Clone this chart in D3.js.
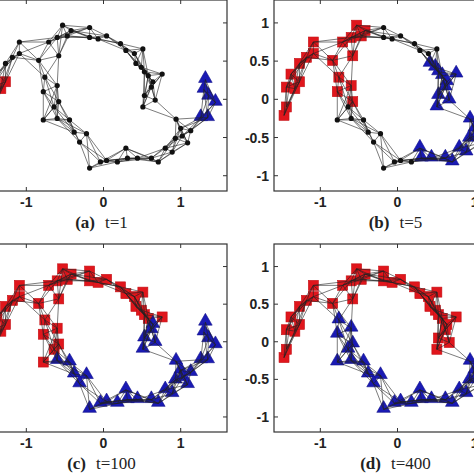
<!DOCTYPE html>
<html>
<head>
<meta charset="utf-8">
<script src="https://cdn.jsdelivr.net/npm/d3@7"></script>
<style>
  body { margin: 0; background: #fff; }
  svg { display: block; }
</style>
</head>
<body>
<svg id="chart" width="474" height="474"></svg>
<script>
// upper moon points (x, y)
var upperX = [-1.47,-1.44,-1.44,-1.38,-1.33,-1.27,-1.27,-1.18,-1.09,-1.09,-0.84,-0.71,-0.60,-0.58,-0.53,-0.47,-0.42,
              -0.18,-0.18,-0.07,0.04,0.22,0.29,0.40,0.51,0.42,0.49,0.53,0.58,0.76,0.64,0.62,0.53,0.67,0.51];
var upperY = [-0.21,-0.10,0.16,0.33,0.14,0.23,0.47,0.55,0.60,0.75,0.51,0.75,0.81,0.57,0.97,0.83,0.90,
              0.94,0.81,0.79,0.83,0.73,0.64,0.60,0.66,0.47,0.42,0.36,0.31,0.33,0.23,0.16,0.05,-0.01,-0.10];
// lower moon points
var lowerX = [-0.76,-0.78,-0.60,-0.58,-0.64,-0.78,-0.60,-0.44,-0.38,-0.22,-0.31,-0.18,-0.04,0.04,0.18,0.29,0.31,
              0.44,0.62,0.71,0.80,0.89,0.94,1.00,0.93,1.02,1.09,1.13,1.32,1.36,1.45,1.26,1.35,1.30];
var lowerY = [0.29,0.10,0.18,-0.03,-0.10,-0.27,-0.25,-0.27,-0.43,-0.45,-0.56,-0.90,-0.82,-0.80,-0.82,-0.64,-0.77,
              -0.77,-0.77,-0.82,-0.64,-0.69,-0.26,-0.38,-0.51,-0.48,-0.57,-0.41,0.26,0.04,-0.04,-0.24,-0.24,0.13];

// labels per panel: 0 = unlabelled, 1 = red square, 2 = blue triangle
var upperA = [1,1,1,0,1,1,0,0,0,0,0,0,0,0,0,0,0, 0,0,0,0,0,0,0,0,0,0,0,0,0,0,0,0,0,0];
var upperB = [1,1,1,1,1,1,1,1,1,1,1,1,1,1,1,1,1, 0,0,0,0,0,0,0,0,2,2,2,2,2,2,2,2,2,2];
var upperC = [1,1,1,1,1,1,1,1,1,1,1,1,1,1,1,1,1, 1,1,1,1,1,1,1,1,1,1,1,1,1,2,2,2,2,2];
var upperD = [1,1,1,1,1,1,1,1,1,1,1,1,1,1,1,1,1, 1,1,1,1,1,1,1,1,1,1,1,1,1,1,1,1,1,1];
var lowerA = [0,0,0,0,0,0,0,0,0,0,0,0,0,0,0,0,0, 0,0,0,0,0,0,0,0,0,0,0,2,2,2,2,2,2];
var lowerB = [1,1,1,1,0,0,0,0,0,0,0,0,0,0,0,2,2, 2,2,2,2,2,2,2,2,2,2,2,2,2,2,2,2,2];
var lowerC = [1,1,1,1,1,1,2,2,2,2,2,2,2,2,2,2,2, 2,2,2,2,2,2,2,2,2,2,2,2,2,2,2,2,2];
var lowerD = [2,2,2,2,2,2,2,2,2,2,2,2,2,2,2,2,2, 2,2,2,2,2,2,2,2,2,2,2,2,2,2,2,2,2];

var captions = [["(a)", "t=1"], ["(b)", "t=5"], ["(c)", "t=100"], ["(d)", "t=400"]];
var xTicks = [-1, 0, 1];
var yTicks = [-1, -0.5, 0, 0.5, 1];

var svg = d3.select("#chart");

var pts = upperX.map(function(x, i) { return {x: x, y: upperY[i]}; })
  .concat(lowerX.map(function(x, i) { return {x: x, y: lowerY[i]}; }));

// k nearest neighbour graph, long links dropped
var K = 7, maxD = 0.5, edges = [], seen = {};
pts.forEach(function(p, i) {
  var d = pts.map(function(q, j) { return {j: j, d: Math.hypot(p.x - q.x, p.y - q.y)}; })
    .filter(function(o) { return o.j !== i; })
    .sort(function(a, b) { return a.d - b.d; });
  d.slice(0, K).forEach(function(o) {
    if (o.d > maxD) return;
    var key = Math.min(i, o.j) + "-" + Math.max(i, o.j);
    if (!seen[key]) { seen[key] = 1; edges.push([i, o.j]); }
  });
});

var panels = [
  {x0: -20, y0: 0, h: 191, lab: upperA.concat(lowerA)},
  {x0: 274, y0: 0, h: 191, lab: upperB.concat(lowerB)},
  {x0: -20, y0: 244, h: 188, lab: upperC.concat(lowerC)},
  {x0: 274, y0: 244, h: 188, lab: upperD.concat(lowerD)}
];
var W = 247;
var tickFont = "Liberation Sans, Arial, sans-serif";

panels.forEach(function(pn, k) {
  var H = pn.h;
  var x = d3.scaleLinear().domain([-1.6, 1.6]).range([pn.x0, pn.x0 + W]);
  var y = d3.scaleLinear().domain([-1.2, 1.3]).range([pn.y0 + H, pn.y0]);
  var g = svg.append("g");

  g.append("rect").attr("x", pn.x0).attr("y", pn.y0).attr("width", W).attr("height", H)
    .attr("fill", "#fff").attr("stroke", "#333").attr("stroke-width", 1.2);

  xTicks.forEach(function(t) {
    g.append("line").attr("x1", x(t)).attr("x2", x(t)).attr("y1", pn.y0 + H).attr("y2", pn.y0 + H - 4).attr("stroke", "#333");
    g.append("line").attr("x1", x(t)).attr("x2", x(t)).attr("y1", pn.y0).attr("y2", pn.y0 + 4).attr("stroke", "#333");
    g.append("text").attr("x", x(t)).attr("y", pn.y0 + H + 16).attr("text-anchor", "middle")
      .attr("font-family", tickFont).attr("font-weight", "bold").attr("font-size", 14)
      .attr("fill", "#222").text(t);
  });
  yTicks.forEach(function(t) {
    g.append("line").attr("x1", pn.x0).attr("x2", pn.x0 + 4).attr("y1", y(t)).attr("y2", y(t)).attr("stroke", "#333");
    g.append("line").attr("x1", pn.x0 + W).attr("x2", pn.x0 + W - 4).attr("y1", y(t)).attr("y2", y(t)).attr("stroke", "#333");
    if (pn.x0 > 0) {
      g.append("text").attr("x", pn.x0 - 5).attr("y", y(t) + 5).attr("text-anchor", "end")
        .attr("font-family", tickFont).attr("font-weight", "bold").attr("font-size", 14)
        .attr("fill", "#222").text(t);
    }
  });

  var sym = d3.symbol().type(d3.symbolTriangle).size(80);
  pts.forEach(function(p, i) {
    if (pn.lab[i] === 1) {
      g.append("rect").attr("x", x(p.x) - 5).attr("y", y(p.y) - 5).attr("width", 10).attr("height", 10)
        .attr("fill", "#e0161c").attr("stroke", "#c41015").attr("stroke-width", 0.6);
    } else if (pn.lab[i] === 2) {
      g.append("path").attr("d", sym).attr("transform", "translate(" + x(p.x) + "," + (y(p.y) - 1) + ")")
        .attr("fill", "#1a1ab4").attr("stroke", "#10108a").attr("stroke-width", 0.6);
    }
  });

  g.selectAll("line.edge").data(edges).enter().append("line").attr("class", "edge")
    .attr("x1", function(e) { return x(pts[e[0]].x); }).attr("y1", function(e) { return y(pts[e[0]].y); })
    .attr("x2", function(e) { return x(pts[e[1]].x); }).attr("y2", function(e) { return y(pts[e[1]].y); })
    .attr("stroke", "#222").attr("stroke-width", 0.7).attr("stroke-opacity", 0.85);

  pts.forEach(function(p, i) {
    if (pn.lab[i] === 0) {
      g.append("circle").attr("cx", x(p.x)).attr("cy", y(p.y)).attr("r", 2.6).attr("fill", "#111");
    }
  });

  var cx = pn.x0 + W / 2;
  var cap = g.append("text").attr("x", cx - 2).attr("y", pn.y0 + H + 37).attr("text-anchor", "middle")
    .attr("font-family", "Liberation Serif, Times New Roman, serif").attr("font-size", 17).attr("fill", "#222");
  cap.append("tspan").attr("font-weight", "bold").text(captions[k][0]);
  cap.append("tspan").attr("dx", 10).text(captions[k][1]);
});
</script>
</body>
</html>
